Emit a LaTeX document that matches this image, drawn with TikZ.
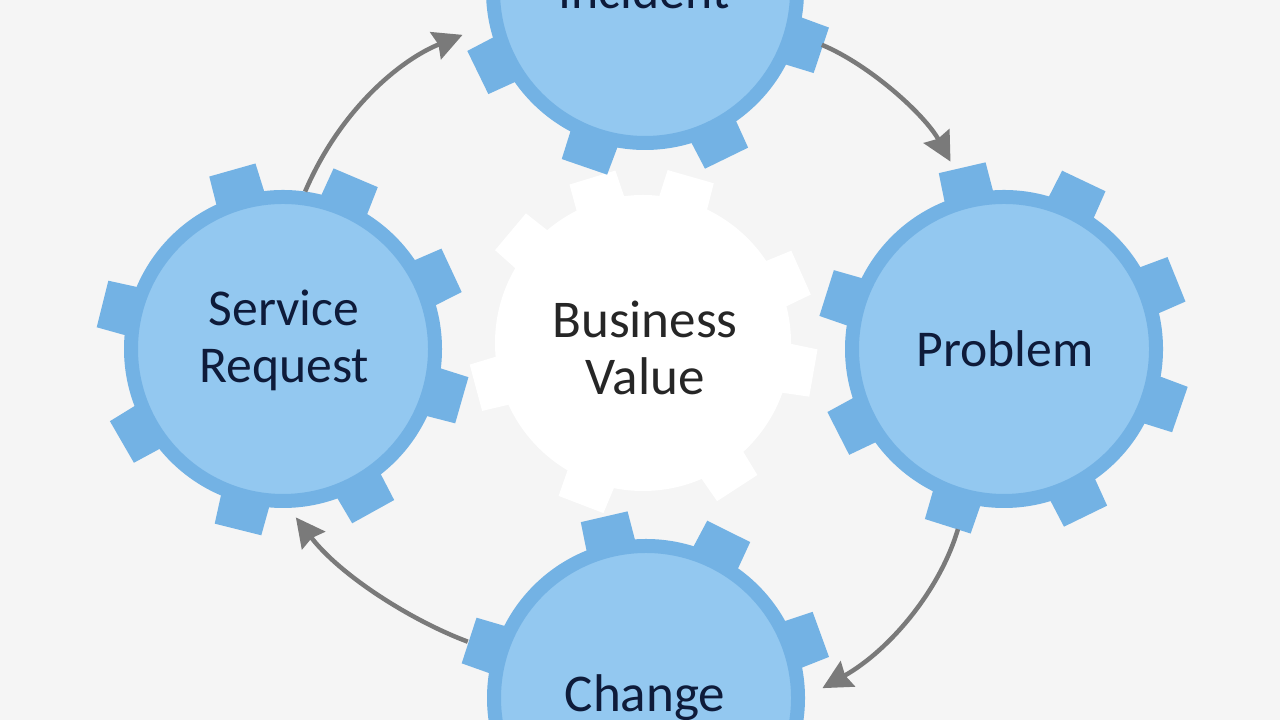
\documentclass[tikz,border=0pt]{standalone}
\usepackage{fontspec}
\setmainfont{Carlito}
\usetikzlibrary{arrows.meta}
\definecolor{ringblue}{RGB}{115,178,228}
\definecolor{faceblue}{RGB}{147,200,240}
\definecolor{pagegray}{RGB}{245,245,245}
\definecolor{flowgray}{RGB}{122,122,122}
\definecolor{labelnavy}{RGB}{14,27,58}
\tikzset{
	gearbody/.style={circle,fill=faceblue,draw=ringblue,line width=0.14cm,minimum size=3.04cm,inner sep=0pt},
	whitebody/.style={circle,fill=white,minimum size=2.96cm,inner sep=0pt,outer sep=0pt},
	gearlabel/.style={align=center,text=labelnavy,font=\fontsize{14.7}{16.2}\selectfont},
	biglabel/.style={gearlabel,font=\fontsize{15.1}{16.2}\selectfont},
	flow/.style={flowgray,line width=0.045cm,-{Stealth[length=2.9mm,width=2.9mm,inset=0.3mm]}}
}
% #1 centre, #2 colour, #3 inner radius, #4 outer radius, #5 list of angles
\newcommand{\gearteeth}[5]{
	\foreach \a in {#5}
		\fill[#2,shift={#1},rotate=\a] (#3,-0.25) -- (#4,-0.24) -- (#4,0.24) -- (#3,0.25) -- cycle;
}
\begin{document}
\begin{tikzpicture}
		\useasboundingbox (0,0) rectangle (12.8,7.2);
		\fill[pagegray] (0,0) rectangle (12.8,7.2);
		% business value, in the middle
		\gearteeth{(6.43,3.77)}{white}{1.4}{1.73}{107,74,24,-10,-57,-111,-165,140}
		\node[whitebody] (business) at (6.43,3.77) {};
		\node[biglabel,text=black!85] (businesstext) at (6.45,3.72) {Business\\Value};
		% the four blue gears
		\gearteeth{(2.83,3.71)}{ringblue}{1.5}{1.86}{105.8,67,25,-16,-61,-104,-150,166}
		\node[gearbody] (service) at (2.83,3.71) {};
		\node[gearlabel] (servicetext) at (2.84,3.80) {Service\\Request};
		\gearteeth{(10.04,3.71)}{ringblue}{1.5}{1.86}{103,64.6,22,-19,-64,-107.6,-153,162.5}
		\node[gearbody] (problem) at (10.04,3.71) {};
		\node[gearlabel] (problemtext) at (10.05,3.71) {Problem};
		\gearteeth{(6.45,7.29)}{ringblue}{1.5}{1.86}{-154,-109,-64,-18.6,25,65,110,160}
		\node[gearbody] (incident) at (6.45,7.29) {};
		\node[gearlabel] (incidenttext) at (6.44,7.29) {Incident};
		\gearteeth{(6.46,0.22)}{ringblue}{1.5}{1.86}{103,63.6,20,162,-20,-65,-110,-155}
		\node[gearbody] (change) at (6.46,0.22) {};
		\node[biglabel] (changetext) at (6.45,0.22) {Change};
		% arrows between the gears
		\draw[flow,shorten >=0.29cm] (service.82) .. controls (3.40,6.10) and (4.00,6.60) .. (incident.192.5);
		\draw[flow,shorten <=0.26cm,shorten >=0.37cm] (incident.-16) .. controls (8.70,6.55) and (9.25,6.05) .. (problem.103.3);
		\draw[flow,shorten <=0.27cm,shorten >=0.2cm] (problem.256.2) .. controls (9.40,1.30) and (8.90,0.70) .. (change.0);
		\draw[flow,shorten <=0.28cm,shorten >=0.12cm] (change.163.6) .. controls (4.10,1.00) and (3.40,1.45) .. (service.272.9);
		\end{tikzpicture}
\end{document}
